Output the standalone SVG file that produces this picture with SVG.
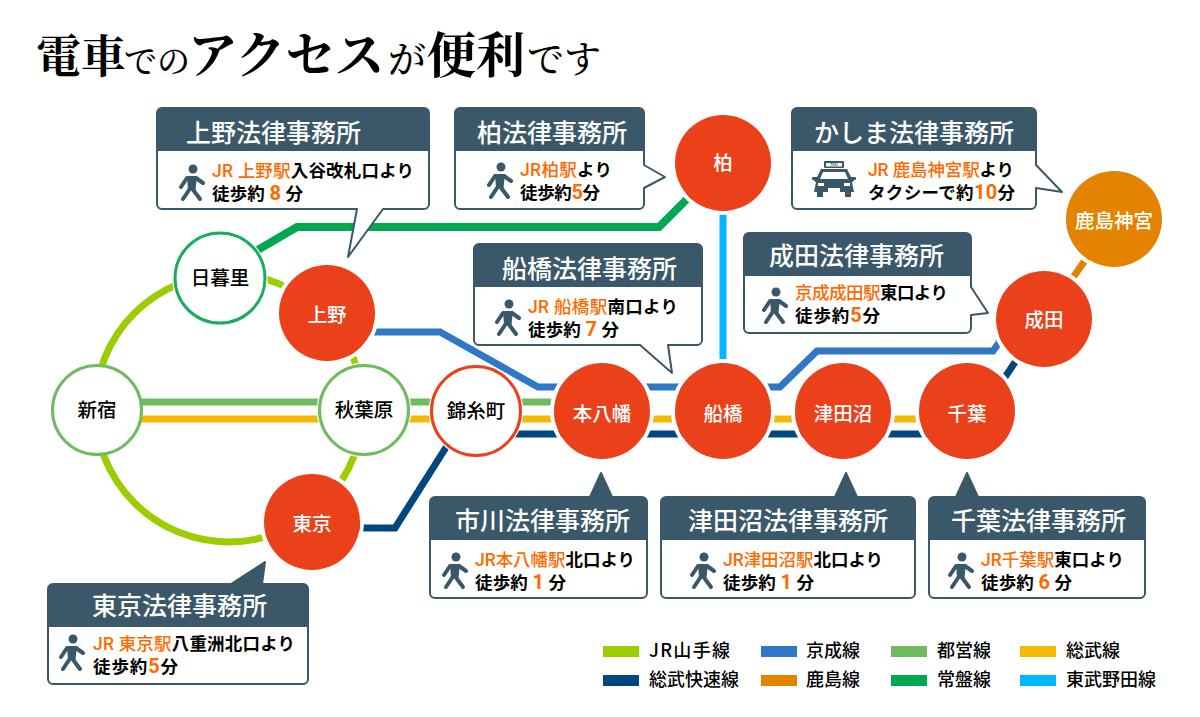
<svg xmlns="http://www.w3.org/2000/svg" width="1200" height="717" viewBox="0 0 1200 717">
<style>
text{font-family:"Noto Sans CJK JP","Noto Sans",sans-serif}
.title{font-family:"Noto Serif CJK JP","Liberation Serif","Noto Sans CJK JP",serif;fill:#000;font-weight:700}
.l{fill:none;stroke-width:7}
.halo{fill:none;stroke:#fff;stroke-width:4}
.halo2{fill:none;stroke:#fff;stroke-width:1.500}
.red{fill:#eb411a}
.wn{fill:#fff;stroke-width:3}
.nl{font-size:19.500px;font-weight:500;text-anchor:middle;fill:#000}
.nr{font-size:19.500px;font-weight:500;text-anchor:middle;fill:#fff}
.box{fill:#fff;stroke:#3a5869;stroke-width:2;stroke-linejoin:round}
.head{fill:#3a5869}
.ht{font-size:25px;font-weight:500;fill:#fff}
.bt{font-family:Roboto,"Noto Sans CJK JP",sans-serif;font-size:17.500px;font-weight:700;fill:#000}
.o{fill:#ff6a00;font-weight:500}
.n{fill:#ff6a00;font-size:20px;font-weight:700}
.ic{fill:#3a5869}
.ics{fill:none;stroke:#3a5869;stroke-width:4;stroke-linecap:round;stroke-linejoin:round}
.lg{font-size:18px;font-weight:500;fill:#000}
</style>
<defs>
<g id="walker">
<circle cx="1" cy="-15" r="4.500"/>
<path class="ics" d="M-11 3 L-5 -6 L4 -6 L11 -1 M0 -6 L-1 3 L-9 15 M-1 3 L8 15"/>
<path d="M-5 -8 L5 -8 L3.500 6 L-4 6Z"/>
</g>
</defs>
<text id="title" class="title" y="73"><tspan x="36" font-size="45">電車</tspan><tspan x="124" font-size="33" font-weight="500">での</tspan><tspan x="188" font-size="49.500">アクセス</tspan><tspan x="388" font-size="38" font-weight="500">が</tspan><tspan x="427" font-size="49">便利</tspan><tspan x="527" font-size="37" font-weight="500">です</tspan></text>

<g id="connectors">
<circle class="l" cx="229" cy="408" r="134" stroke="#9bcd00"/>
<path class="l" d="M97 402H553" stroke="#6fbb5f"/>
<path class="l" d="M97 419H967" stroke="#f4b905"/>
<path class="l" d="M476 434H967L1044 319" stroke="#00477f"/>
<path class="l" d="M312 528H395L476 400" stroke="#00477f"/>
<path class="l" d="M327 332H440L538 387H780L817 351H993L1044 280" stroke="#2e78c6"/>
<path d="M220 272L297 227H659L723 163" fill="none" stroke="#00a84f" stroke-width="8"/>
<path class="l" d="M723 163V411" stroke="#00b7ff"/>
<path class="l" d="M1044 319L1114 219" stroke="#e38300"/>
</g>

<g id="n-nippori"><circle class="halo2" cx="220" cy="278" r="47"/><circle class="wn" cx="220" cy="278" r="45" stroke="#1dab62"/><text class="nl" x="220" y="285">日暮里</text></g>
<g id="n-ueno"><circle class="halo" cx="327" cy="313" r="50"/><circle class="red" cx="327" cy="313" r="48"/><text class="nr" x="327" y="322">上野</text></g>
<g id="n-shinjuku"><circle class="wn" cx="97" cy="410" r="44.500" stroke="#6fbb5f"/><text class="nl" x="97" y="417">新宿</text></g>
<g id="n-akihabara"><circle class="halo2" cx="364" cy="410" r="46.500"/><circle class="wn" cx="364" cy="410" r="44.500" stroke="#6fbb5f"/><text class="nl" x="364" y="417">秋葉原</text></g>
<g id="n-kinshicho"><circle class="halo2" cx="476" cy="411" r="46.500"/><circle class="wn" cx="476" cy="411" r="44.500" stroke="#eb411a"/><text class="nl" x="476" y="418">錦糸町</text></g>
<g id="n-tokyo"><circle class="halo" cx="312" cy="522" r="50"/><circle class="red" cx="312" cy="522" r="48"/><text class="nr" x="312" y="531">東京</text></g>
<g id="n-motoyawata"><circle class="halo" cx="602" cy="411" r="50"/><circle class="red" cx="602" cy="411" r="48"/><text class="nr" x="602" y="421">本八幡</text></g>
<g id="n-funabashi"><circle class="halo" cx="723" cy="411" r="50"/><circle class="red" cx="723" cy="411" r="48"/><text class="nr" x="723" y="421">船橋</text></g>
<g id="n-tsudanuma"><circle class="halo" cx="843" cy="411" r="50"/><circle class="red" cx="843" cy="411" r="48"/><text class="nr" x="843" y="421">津田沼</text></g>
<g id="n-chiba"><circle class="halo" cx="967" cy="411" r="50"/><circle class="red" cx="967" cy="411" r="48"/><text class="nr" x="967" y="421">千葉</text></g>
<g id="n-narita"><circle class="halo" cx="1044" cy="319" r="50"/><circle class="red" cx="1044" cy="319" r="48"/><text class="nr" x="1044" y="327">成田</text></g>
<g id="n-kashimajingu"><circle class="halo" cx="1114" cy="219" r="50"/><circle cx="1114" cy="219" r="48" fill="#e38300"/><text class="nr" x="1114" y="228">鹿島神宮</text></g>
<g id="n-kashiwa"><circle class="halo" cx="723" cy="163" r="50"/><circle class="red" cx="723" cy="163" r="48"/><text class="nr" x="723" y="170">柏</text></g>

<g id="c-ueno">
<path class="box" d="M162 108H424a5 5 0 0 1 5 5V204a5 5 0 0 1-5 5H383L348 257L357 209H162a5 5 0 0 1-5-5V113a5 5 0 0 1 5-5Z"/>
<path class="head" d="M162 108H424a5 5 0 0 1 5 5V151H157V113a5 5 0 0 1 5-5Z"/>
<text class="ht" x="186" y="142">上野法律事務所</text>
<use href="#walker" class="ic" x="192" y="184"/>
<text class="bt" x="212" y="177" textLength="202"><tspan class="o">JR 上野駅</tspan>入谷改札口より</text>
<text class="bt" x="212" y="200" textLength="91">徒歩約 <tspan class="n">8</tspan> 分</text>
</g>
<g id="c-kashiwa">
<path class="box" d="M460 108H639a5 5 0 0 1 5 5V165L665 177L644 188V204a5 5 0 0 1-5 5H460a5 5 0 0 1-5-5V113a5 5 0 0 1 5-5Z"/>
<path class="head" d="M460 108H639a5 5 0 0 1 5 5V151H455V113a5 5 0 0 1 5-5Z"/>
<text class="ht" x="477" y="142">柏法律事務所</text>
<use href="#walker" class="ic" x="500" y="182"/>
<text class="bt" x="520" y="176" textLength="92"><tspan class="o">JR柏駅</tspan>より</text>
<text class="bt" x="520" y="199" textLength="80">徒歩約<tspan class="n">5</tspan>分</text>
</g>
<g id="c-kashima">
<path class="box" d="M797 108H1031a5 5 0 0 1 5 5V165L1062 192L1036 188V204a5 5 0 0 1-5 5H797a5 5 0 0 1-5-5V113a5 5 0 0 1 5-5Z"/>
<path class="head" d="M797 108H1031a5 5 0 0 1 5 5V151H792V113a5 5 0 0 1 5-5Z"/>
<text class="ht" x="814" y="142">かしま法律事務所</text>
<g id="taxi" class="ic">
<rect x="824" y="161" width="20" height="7" rx="1"/>
<rect x="826" y="163" width="16" height="3.500" fill="#fff"/>
<text x="834" y="166" font-size="3.500" font-weight="700" text-anchor="middle" fill="#3a5869">TAXI</text>
<path d="M821 169H847L851 177L855 177H854V181L852 182L854 192H814L816 182L814 181V177L817 177Z"/>
<path d="M823 172H845L848 179H820Z" fill="#fff"/>
<rect x="817" y="192" width="6" height="5"/><rect x="845" y="192" width="6" height="5"/>
<rect x="818" y="183" width="6" height="3" fill="#fff"/><rect x="844" y="183" width="6" height="3" fill="#fff"/>
<rect x="828" y="188" width="12" height="4" fill="#fff"/>
<rect x="812" y="177" width="5" height="3" rx="1"/><rect x="851" y="177" width="5" height="3" rx="1"/>
</g>
<text class="bt" x="868" y="176" textLength="146"><tspan class="o">JR 鹿島神宮駅</tspan>より</text>
<text class="bt" x="868" y="199" textLength="147">タクシーで約<tspan class="n">10</tspan>分</text>
</g>
<g id="c-funabashi">
<path class="box" d="M479 244H697a5 5 0 0 1 5 5V340a5 5 0 0 1-5 5H668L672 373L640 345H479a5 5 0 0 1-5-5V249a5 5 0 0 1 5-5Z"/>
<path class="head" d="M479 244H697a5 5 0 0 1 5 5V287H474V249a5 5 0 0 1 5-5Z"/>
<text class="ht" x="502" y="278">船橋法律事務所</text>
<use href="#walker" class="ic" x="508" y="319"/>
<text class="bt" x="528" y="313" textLength="150"><tspan class="o">JR 船橋駅</tspan>南口より</text>
<text class="bt" x="528" y="336" textLength="91">徒歩約 <tspan class="n">7</tspan> 分</text>
</g>
<g id="c-narita">
<path class="box" d="M749 233H966a5 5 0 0 1 5 5V287L988 313L971 315V328a5 5 0 0 1-5 5H749a5 5 0 0 1-5-5V238a5 5 0 0 1 5-5Z"/>
<path class="head" d="M749 233H966a5 5 0 0 1 5 5V276H744V238a5 5 0 0 1 5-5Z"/>
<text class="ht" x="769" y="265">成田法律事務所</text>
<use href="#walker" class="ic" x="775" y="307"/>
<text class="bt" x="795" y="299" textLength="153"><tspan class="o">京成成田駅</tspan>東口より</text>
<text class="bt" x="795" y="322" textLength="85">徒歩約<tspan class="n">5</tspan>分</text>
</g>
<g id="c-ichikawa">
<path class="box" d="M435 497H590L601 473L612 497H642a5 5 0 0 1 5 5V593a5 5 0 0 1-5 5H435a5 5 0 0 1-5-5V502a5 5 0 0 1 5-5Z"/>
<path class="head" d="M435 497H590L601 473L612 497H642a5 5 0 0 1 5 5V540H430V502a5 5 0 0 1 5-5Z"/>
<text class="ht" x="455" y="530">市川法律事務所</text>
<use href="#walker" class="ic" x="455" y="572"/>
<text class="bt" x="475" y="566" textLength="160"><tspan class="o">JR本八幡駅</tspan>北口より</text>
<text class="bt" x="475" y="589" textLength="91">徒歩約 <tspan class="n">1</tspan> 分</text>
</g>
<g id="c-tsudanuma">
<path class="box" d="M666 497H835L846 473L857 497H910a5 5 0 0 1 5 5V593a5 5 0 0 1-5 5H666a5 5 0 0 1-5-5V502a5 5 0 0 1 5-5Z"/>
<path class="head" d="M666 497H835L846 473L857 497H910a5 5 0 0 1 5 5V540H661V502a5 5 0 0 1 5-5Z"/>
<text class="ht" x="688" y="530">津田沼法律事務所</text>
<use href="#walker" class="ic" x="703" y="572"/>
<text class="bt" x="723" y="566" textLength="160"><tspan class="o">JR津田沼駅</tspan>北口より</text>
<text class="bt" x="723" y="589" textLength="91">徒歩約 <tspan class="n">1</tspan> 分</text>
</g>
<g id="c-chiba">
<path class="box" d="M934 497H956L967 473L978 497H1140a5 5 0 0 1 5 5V593a5 5 0 0 1-5 5H934a5 5 0 0 1-5-5V502a5 5 0 0 1 5-5Z"/>
<path class="head" d="M934 497H956L967 473L978 497H1140a5 5 0 0 1 5 5V540H929V502a5 5 0 0 1 5-5Z"/>
<text class="ht" x="951" y="530">千葉法律事務所</text>
<use href="#walker" class="ic" x="961" y="572"/>
<text class="bt" x="981" y="566" textLength="143"><tspan class="o">JR千葉駅</tspan>東口より</text>
<text class="bt" x="981" y="589" textLength="91">徒歩約 <tspan class="n">6</tspan> 分</text>
</g>
<g id="c-tokyo">
<path class="box" d="M53 584H231L265 562L262 584H303a5 5 0 0 1 5 5V679a5 5 0 0 1-5 5H53a5 5 0 0 1-5-5V589a5 5 0 0 1 5-5Z"/>
<path class="head" d="M53 584H231L265 562L262 584H303a5 5 0 0 1 5 5V627H48V589a5 5 0 0 1 5-5Z"/>
<text class="ht" x="92" y="615">東京法律事務所</text>
<use href="#walker" class="ic" x="72" y="654"/>
<text class="bt" x="93" y="650" textLength="202"><tspan class="o">JR 東京駅</tspan>八重洲北口より</text>
<text class="bt" x="93" y="673" textLength="85">徒歩約<tspan class="n">5</tspan>分</text>
</g>

<g id="legend">
<rect x="603" y="646" width="36" height="11" fill="#9bcd00"/><text class="lg" x="649" y="657" textLength="81">JR山手線</text>
<rect x="761" y="646" width="36" height="11" fill="#2e78c6"/><text class="lg" x="806" y="657">京成線</text>
<rect x="891" y="646" width="36" height="11" fill="#6fbb5f"/><text class="lg" x="937" y="657">都営線</text>
<rect x="1020" y="646" width="36" height="11" fill="#f4b905"/><text class="lg" x="1066" y="657">総武線</text>
<rect x="603" y="675" width="36" height="11" fill="#00477f"/><text class="lg" x="649" y="686">総武快速線</text>
<rect x="761" y="675" width="36" height="11" fill="#e38300"/><text class="lg" x="806" y="686">鹿島線</text>
<rect x="891" y="675" width="36" height="11" fill="#00a84f"/><text class="lg" x="937" y="686">常盤線</text>
<rect x="1020" y="675" width="36" height="11" fill="#00b7ff"/><text class="lg" x="1066" y="686">東武野田線</text>
</g>
</svg>
